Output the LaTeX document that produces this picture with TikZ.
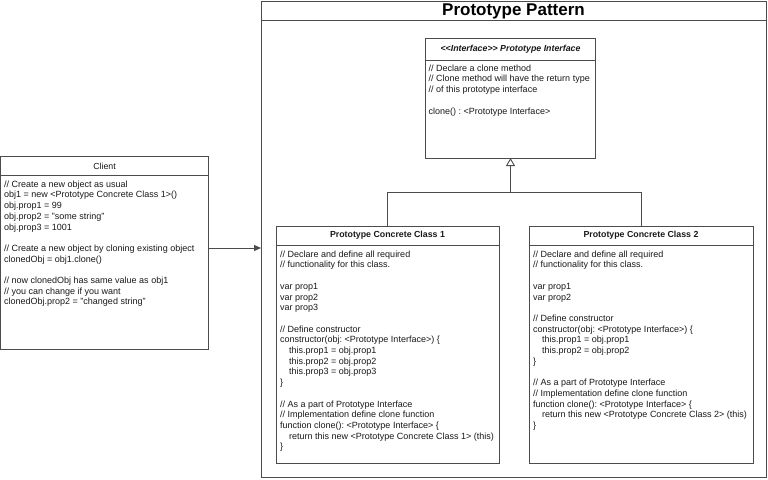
\documentclass[tikz,border=0pt]{standalone}
\usepackage{fontspec}
\setmainfont{Liberation Sans}
\usetikzlibrary{arrows.meta}
\frenchspacing
\begin{document}
\begin{tikzpicture}[x=1pt,y=-1pt]
\tikzset{
 ln/.style={draw=black!70, line width=0.9pt},
 box/.style={ln, fill=white, anchor=north west, inner sep=0pt, outer sep=0pt},
 body/.style={anchor=north west, inner sep=0pt, align=left, font=\fontsize{9}{10.7}\selectfont\frenchspacing, text=black!90},
 head/.style={inner sep=0pt, font=\fontsize{8.8}{10}\selectfont\bfseries, text=black!90},
}
\useasboundingbox (0,0) rectangle (768,479);
% package frame
\node[box, minimum width=505pt, minimum height=476pt] (frame) at (261,1.5) {};
\draw[ln] (frame.north west |- 0,20) -- (frame.north east |- 0,20);
\node[inner sep=0pt, font=\fontsize{17}{19}\selectfont\bfseries] (title) at (513.5,11) {Prototype Pattern};
% client
\node[box, minimum width=208pt, minimum height=193pt] (client) at (0.5,156) {};
\draw[ln] (client.north west |- 0,175) -- (client.north east |- 0,175);
\node[head, font=\fontsize{8.8}{10}\selectfont] (clienthead) at (104.5,166) {Client};
\node[body] (clientbody) at (4,180.5) {// Create a new object as usual\\
obj1 = new <Prototype Concrete Class 1>()\\
obj.prop1 = 99\\
obj.prop2 = "some string"\\
obj.prop3 = 1001\\
\mbox{}\\
// Create a new object by cloning existing object\\
clonedObj = obj1.clone()\\
\mbox{}\\
// now clonedObj has same value as obj1\\
// you can change if you want\\
clonedObj.prop2 = "changed string"};
% interface
\node[box, minimum width=170pt, minimum height=120pt] (iface) at (425.5,38) {};
\draw[ln] (iface.north west |- 0,60) -- (iface.north east |- 0,60);
\node[head, font=\fontsize{8.8}{10}\selectfont\bfseries\itshape] (ifacehead) at (510.5,49) {<{}<Interface>{}> Prototype Interface};
\node[body] (ifacebody) at (428.5,64.5) {// Declare a clone method\\
// Clone method will have the return type\\
// of this prototype interface\\
\mbox{}\\
clone() : <Prototype Interface>};
% class 1
\node[box, minimum width=223pt, minimum height=237pt] (classA) at (276,226) {};
\draw[ln] (classA.north west |- 0,245) -- (classA.north east |- 0,245);
\node[head] (classAhead) at (387.5,235.5) {Prototype Concrete Class 1};
\node[body] (classAbody) at (280,250.5) {// Declare and define all required\\
// functionality for this class.\\
\mbox{}\\
var prop1\\
var prop2\\
var prop3\\
\mbox{}\\
// Define constructor\\
constructor(obj: <Prototype Interface>) \{\\
\hspace*{9pt}this.prop1 = obj.prop1\\
\hspace*{9pt}this.prop2 = obj.prop2\\
\hspace*{9pt}this.prop3 = obj.prop3\\
\}\\
\mbox{}\\
// As a part of Prototype Interface\\
// Implementation define clone function\\
function clone(): <Prototype Interface> \{\\
\hspace*{9pt}return this new <Prototype Concrete Class 1> (this)\\
\}};
% class 2
\node[box, minimum width=224pt, minimum height=237pt] (classB) at (529,226) {};
\draw[ln] (classB.north west |- 0,245) -- (classB.north east |- 0,245);
\node[head] (classBhead) at (641,235.5) {Prototype Concrete Class 2};
\node[body] (classBbody) at (533,250.5) {// Declare and define all required\\
// functionality for this class.\\
\mbox{}\\
var prop1\\
var prop2\\
\mbox{}\\
// Define constructor\\
constructor(obj: <Prototype Interface>) \{\\
\hspace*{9pt}this.prop1 = obj.prop1\\
\hspace*{9pt}this.prop2 = obj.prop2\\
\}\\
\mbox{}\\
// As a part of Prototype Interface\\
// Implementation define clone function\\
function clone(): <Prototype Interface> \{\\
\hspace*{9pt}return this new <Prototype Concrete Class 2> (this)\\
\}};
% connectors
\coordinate (arrstart) at (client.east |- 0,248);
\draw[ln, -{Triangle[length=7pt, width=6pt]}, fill=black] (arrstart) -- (arrstart -| frame.west);
\coordinate (joint) at (iface.south |- 0,192);
\draw[ln] (classA.north) -- (classA.north |- joint) -- (classB.north |- joint) -- (classB.north);
\draw[ln, -{Triangle[open, length=8pt, width=9pt]}] (joint) -- (iface.south);
\end{tikzpicture}
\end{document}
